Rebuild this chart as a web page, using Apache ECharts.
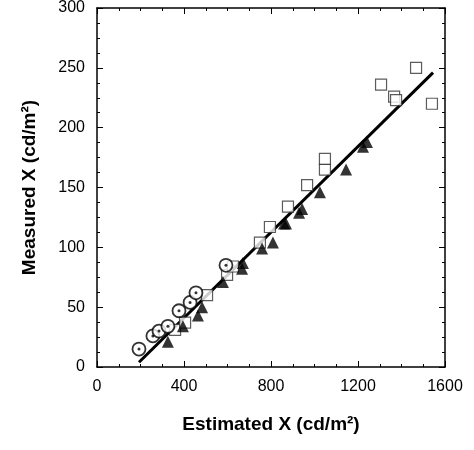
<!DOCTYPE html><html><head><meta charset="utf-8"><script src="https://cdn.jsdelivr.net/npm/echarts@6/dist/echarts.min.js"></script></head><body style="margin:0"><div id="c" style="width:474px;height:450px"></div><script>
const circles=[[193,15],[257,26],[285,30],[326,34],[377,47],[428,54],[455,62],[593,85]];
const squares=[[359,31],[405,37],[506,60],[598,77],[625,84],[749,104],[795,117],[878,134],[966,152],[1048,165],[1048,174],[1306,236],[1366,226],[1375,223],[1467,250],[1540,220]];
const triangles=[[326,21],[395,34],[464,43],[483,50],[579,71],[667,82],[671,87],[759,99],[809,104],[860,120],[869,120],[929,129],[943,132],[1025,146],[1145,165],[1223,184],[1241,188]];
const fitLine=[[193,4],[1545,246]];
const ax=()=>({axisLine:{show:true,onZero:false,lineStyle:{color:'#000',width:1.5}},axisTick:{show:true,inside:true,length:6,lineStyle:{color:'#000'}},minorTick:{show:true,splitNumber:4,length:3,lineStyle:{color:'#000'}},splitLine:{show:false}});
const lbl={fontFamily:'Liberation Sans',fontSize:16,color:'#000',margin:12,formatter:v=>String(v)};
const nm={fontFamily:'Liberation Sans',fontWeight:'bold',fontSize:19,color:'#000'};
const c=echarts.init(document.getElementById('c'));
c.setOption({animation:false,grid:{left:97,right:29,top:8,bottom:83},
xAxis:[Object.assign(ax(),{type:'value',min:0,max:1600,interval:400,name:'Estimated X (cd/m²)',nameLocation:'middle',nameGap:48,nameTextStyle:nm,axisLabel:lbl}),
Object.assign(ax(),{type:'value',position:'top',min:0,max:1600,interval:400,axisLabel:{show:false}})],
yAxis:[Object.assign(ax(),{type:'value',min:0,max:300,interval:50,name:'Measured X (cd/m²)',nameLocation:'middle',nameGap:58,nameTextStyle:nm,axisLabel:lbl}),
Object.assign(ax(),{type:'value',position:'right',min:0,max:300,interval:50,axisLabel:{show:false}})],
series:[
{type:'line',data:fitLine,symbol:'none',lineStyle:{color:'#000',width:3},z:1},
{type:'scatter',data:squares,symbol:'rect',symbolSize:11,itemStyle:{color:'#fff',borderColor:'#333',borderWidth:1.2}},
{type:'scatter',data:circles,symbol:'circle',symbolSize:13,itemStyle:{color:'#fff',borderColor:'#000',borderWidth:1.8}},
{type:'scatter',data:circles,symbol:'circle',symbolSize:3,itemStyle:{color:'#000'},z:5},
{type:'scatter',data:triangles,symbol:'triangle',symbolSize:12,itemStyle:{color:'#000'}}
]});
</script></body></html>
